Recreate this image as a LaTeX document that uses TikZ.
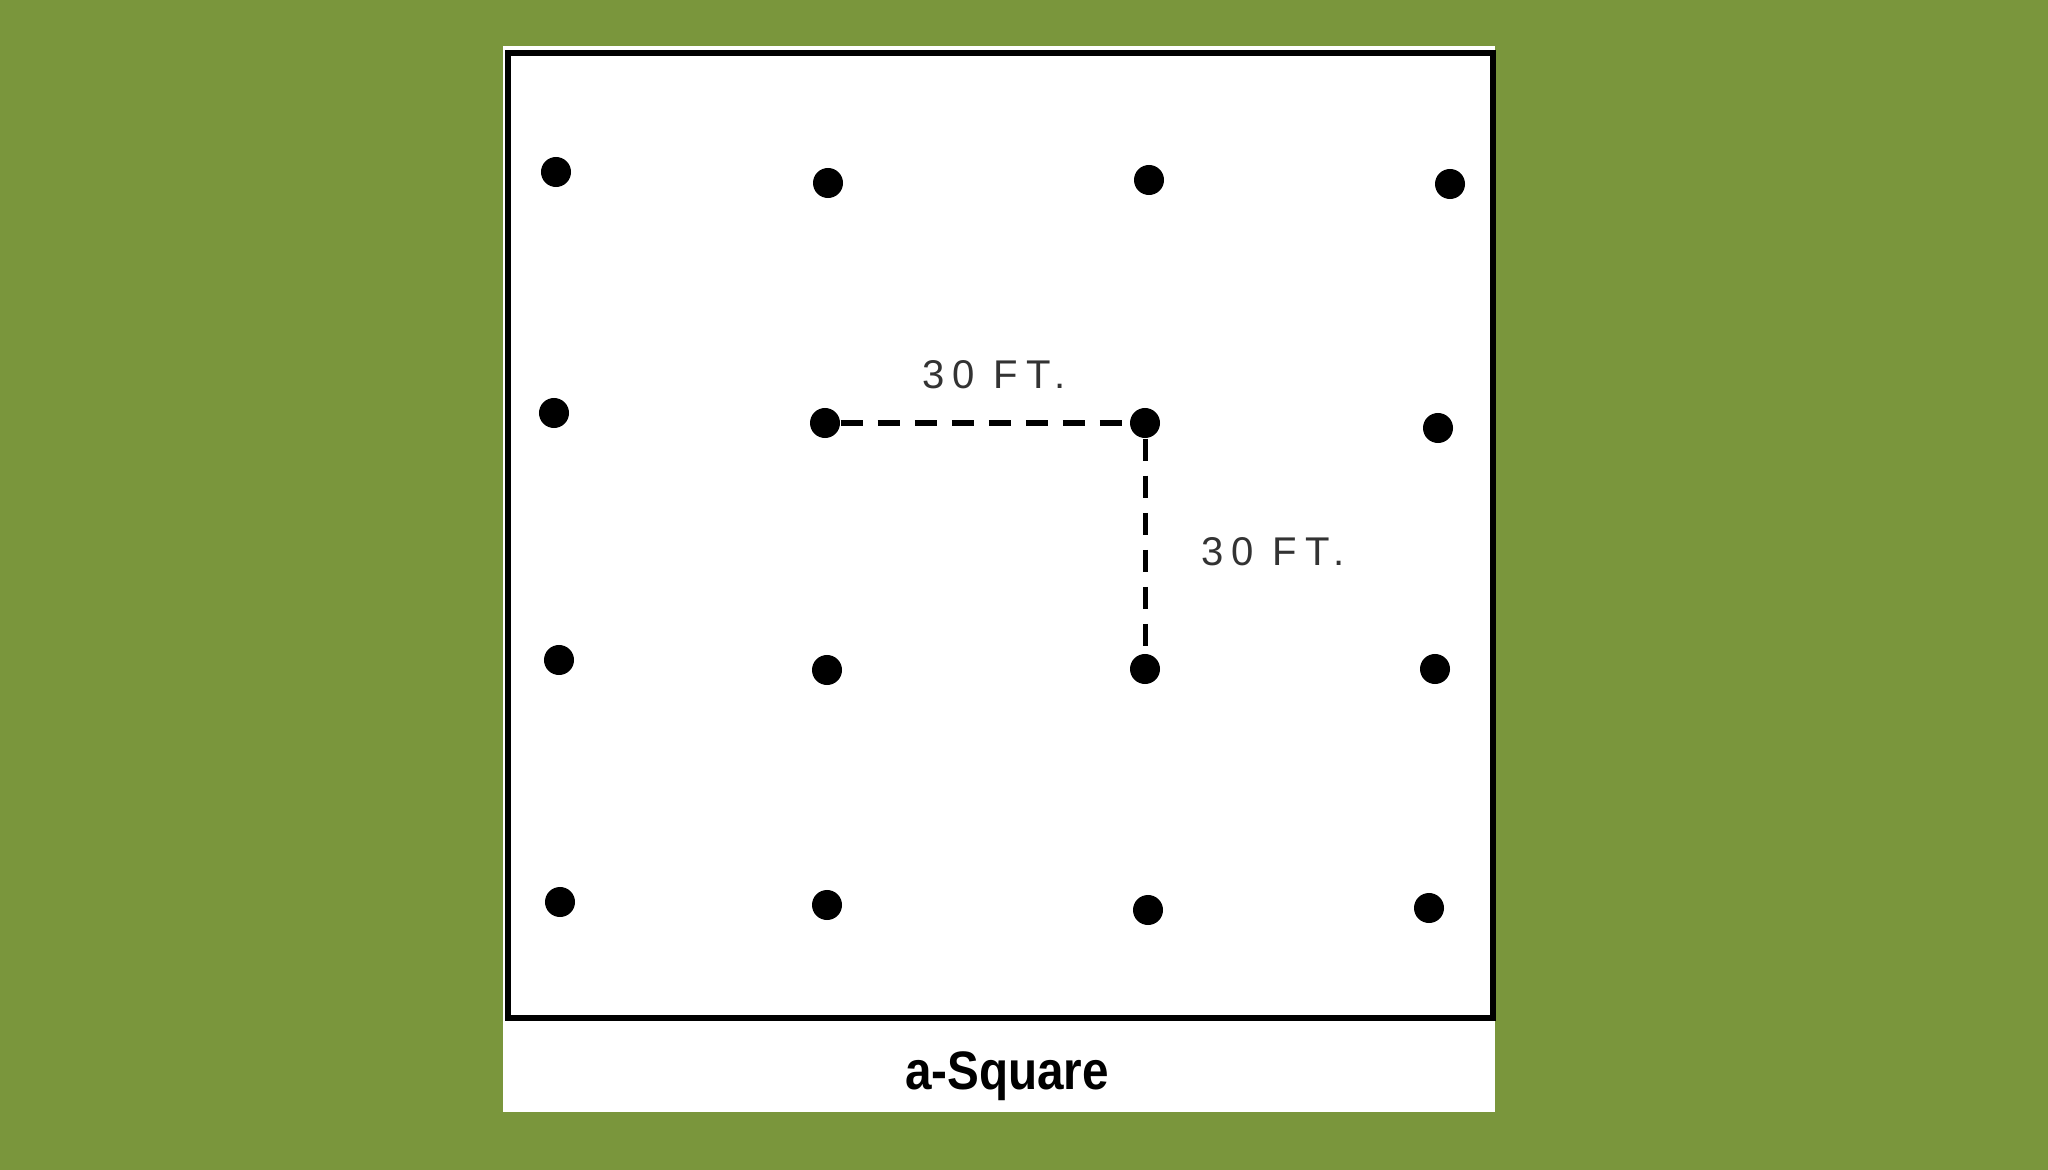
\documentclass[tikz,border=0pt]{standalone}
\usepackage{fontspec}
\setmainfont{Liberation Sans}
\definecolor{fieldgreen}{RGB}{122,150,60}
\tikzset{
  tree/.style={circle, fill=black, inner sep=0pt, minimum size=3mm},
  spacing/.style={line width=0.5mm, dash pattern=on 2.2mm off 1.5mm},
  distlabel/.style={text=black!80, font=\fontsize{11.4}{13}\selectfont\addfontfeatures{LetterSpace=20}}
}

\begin{document}
\begin{tikzpicture}[x=0.01cm, y=-0.01cm]
			%%%%% START %%%%%
			
			\fill[fieldgreen] (0, 0) rectangle (2048, 1170);
			\fill[white] (503, 46) rectangle (1495, 1112);
			\draw[line width=0.6mm] (508, 53) rectangle (1493, 1018);
			
			% first row
			\node[tree] (r1c1) at (556, 172) {};
			\node[tree] (r1c2) at (828, 183) {};
			\node[tree] (r1c3) at (1149, 180) {};
			\node[tree] (r1c4) at (1450, 184) {};
			
			% second row
			\node[tree] (r2c1) at (554, 413) {};
			\node[tree] (r2c2) at (825, 423) {};
			\node[tree] (r2c3) at (1145, 423) {};
			\node[tree] (r2c4) at (1438, 428) {};
			
			% third row
			\node[tree] (r3c1) at (559, 660) {};
			\node[tree] (r3c2) at (827, 670) {};
			\node[tree] (r3c3) at (1145, 669) {};
			\node[tree] (r3c4) at (1435, 669) {};
			
			% fourth row
			\node[tree] (r4c1) at (560, 902) {};
			\node[tree] (r4c2) at (827, 905) {};
			\node[tree] (r4c3) at (1148, 910) {};
			\node[tree] (r4c4) at (1429, 908) {};
			
			\draw[spacing] (r2c2) -- (r2c3);
			\draw[spacing] (r2c3) -- (r3c3);
			
			\node[distlabel] (lblh) at (994, 375) {30 FT.};
			\node[distlabel] (lblv) at (1273, 552) {30 FT.};
			
			\node (caption) at (1007, 1076) {\fontsize{15.4}{18}\selectfont\bfseries\scalebox{0.88}[1]{a-Square}};
			
			%%%%% END %%%%%
\end{tikzpicture}
\end{document}
